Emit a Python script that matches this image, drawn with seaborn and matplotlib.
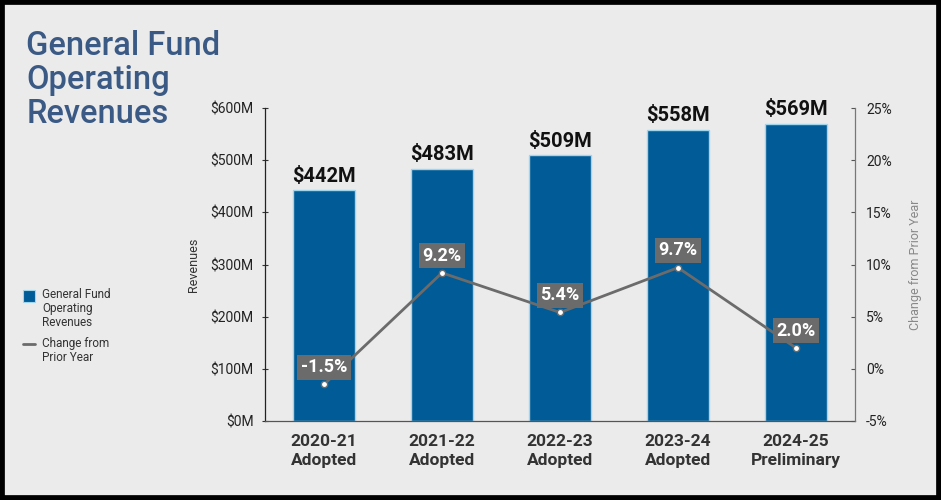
import numpy as np
import matplotlib.pyplot as plt
import seaborn as sns
from matplotlib.patches import Rectangle
from matplotlib.lines import Line2D

years = ["2020-21\nAdopted", "2021-22\nAdopted", "2022-23\nAdopted", "2023-24\nAdopted", "2024-25\nPreliminary"]
revenues = [442, 483, 509, 558, 569]          # $M
change_pct = [-1.5, 9.2, 5.4, 9.7, 2.0]       # %
title_lines = ["General Fund", "Operating", "Revenues"]
legend_labels = ["General Fund\nOperating\nRevenues", "Change from\nPrior Year"]

bar_color = "#005b96"
line_color = "#6b6b6b"
bg = "#ebebeb"

sns.set_style("white")
plt.rcParams['font.family'] = ['Roboto', 'DejaVu Sans']

fig = plt.figure(figsize=(9.41, 5.0), dpi=100, facecolor=bg)
ax = fig.add_axes([0.2816, 0.158, 0.627, 0.626])
ax.set_facecolor(bg)

sns.barplot(x=years, y=revenues, color=bar_color, width=0.53, edgecolor="#9fd6ee",
            linewidth=1.0, saturation=1, ax=ax)
ax.set_ylim(0, 600)
ax.set_xlim(-0.5, len(years) - 0.5)
ax.set_yticks(np.arange(0, 601, 100))
ax.set_yticklabels([f"${v}M" for v in range(0, 601, 100)], fontsize=10, color="#222222")
ax.set_ylabel("Revenues", fontsize=9, color="#333333", labelpad=8)
ax.set_xticks(range(len(years)))
ax.set_xticklabels(years, fontsize=12.5, fontweight="bold", color="#333333", linespacing=1.4)
ax.tick_params(axis="x", length=0, pad=9)
ax.tick_params(axis="y", length=4, width=0.8, direction="inout", color="#333333", pad=6)
# small ticks at category boundaries
ax.set_xticks(np.arange(0.5, len(years) - 1, 1), minor=True)
ax.tick_params(axis="x", which="minor", length=3, width=0.8, direction="out", color="#555555")
for s in ["top", "right"]:
    ax.spines[s].set_visible(False)
ax.spines["left"].set_color("#222222")
ax.spines["bottom"].set_color("#555555")
ax.spines["left"].set_linewidth(0.9)
ax.spines["bottom"].set_linewidth(0.9)

for i, v in enumerate(revenues):
    ax.text(i, v + 9, f"${v}M", ha="center", va="bottom", fontsize=14.5,
            fontweight="bold", color="#111111")

ax2 = ax.twinx()
sns.lineplot(x=np.arange(len(years)), y=change_pct, color=line_color, linewidth=2,
             marker="o", markersize=4.5, markerfacecolor="white",
             markeredgecolor=line_color, markeredgewidth=1, ax=ax2, zorder=5)
ax2.set_ylim(-5, 25)
ax2.set_yticks(np.arange(-5, 26, 5))
ax2.set_yticklabels([f"{v}%" for v in range(-5, 26, 5)], fontsize=10, color="#222222")
ax2.set_ylabel("Change from Prior Year", fontsize=9, color="#888888", labelpad=12)
ax2.tick_params(axis="y", length=3, width=0.8, direction="in", color="#555555", pad=8)
for s in ["top", "left", "bottom"]:
    ax2.spines[s].set_visible(False)
ax2.spines["right"].set_color("#777777")
ax2.spines["right"].set_linewidth(0.9)

for i, v in enumerate(change_pct):
    ax2.annotate(f"{v:.1f}%", (i, v), xytext=(0, 6), textcoords="offset points",
                 ha="center", va="bottom", fontsize=13, fontweight="bold", color="white",
                 bbox=dict(boxstyle="square,pad=0.2", fc="#6b6b6b", ec="none"), zorder=6)

# title, one text per line so each box stays tight
for k, line in enumerate(title_lines):
    fig.text(0.028, 0.89 - k * 0.068, line, ha="left", va="baseline",
             fontsize=23.5, fontweight="medium", color="#3a5a85")

# legend, drawn by hand so the swatch sits at the first text line
fig.add_artist(Rectangle((0.024, 0.397), 0.013, 0.024, transform=fig.transFigure,
                         facecolor=bar_color, edgecolor="#9fd6ee", linewidth=0.8))
fig.text(0.045, 0.425, legend_labels[0], ha="left", va="top", fontsize=8.5,
         color="#333333", linespacing=1.15)
fig.add_artist(Line2D([0.024, 0.037], [0.313, 0.313], transform=fig.transFigure,
                      color=line_color, linewidth=2))
fig.text(0.045, 0.327, legend_labels[1], ha="left", va="top", fontsize=8.5,
         color="#333333", linespacing=1.15)

# black frame around the picture
fig.patches.append(Rectangle((0, 0), 1, 1, transform=fig.transFigure, fill=False,
                             edgecolor="black", linewidth=7, zorder=10))

fig.savefig("out.png", dpi=100, facecolor=bg)
